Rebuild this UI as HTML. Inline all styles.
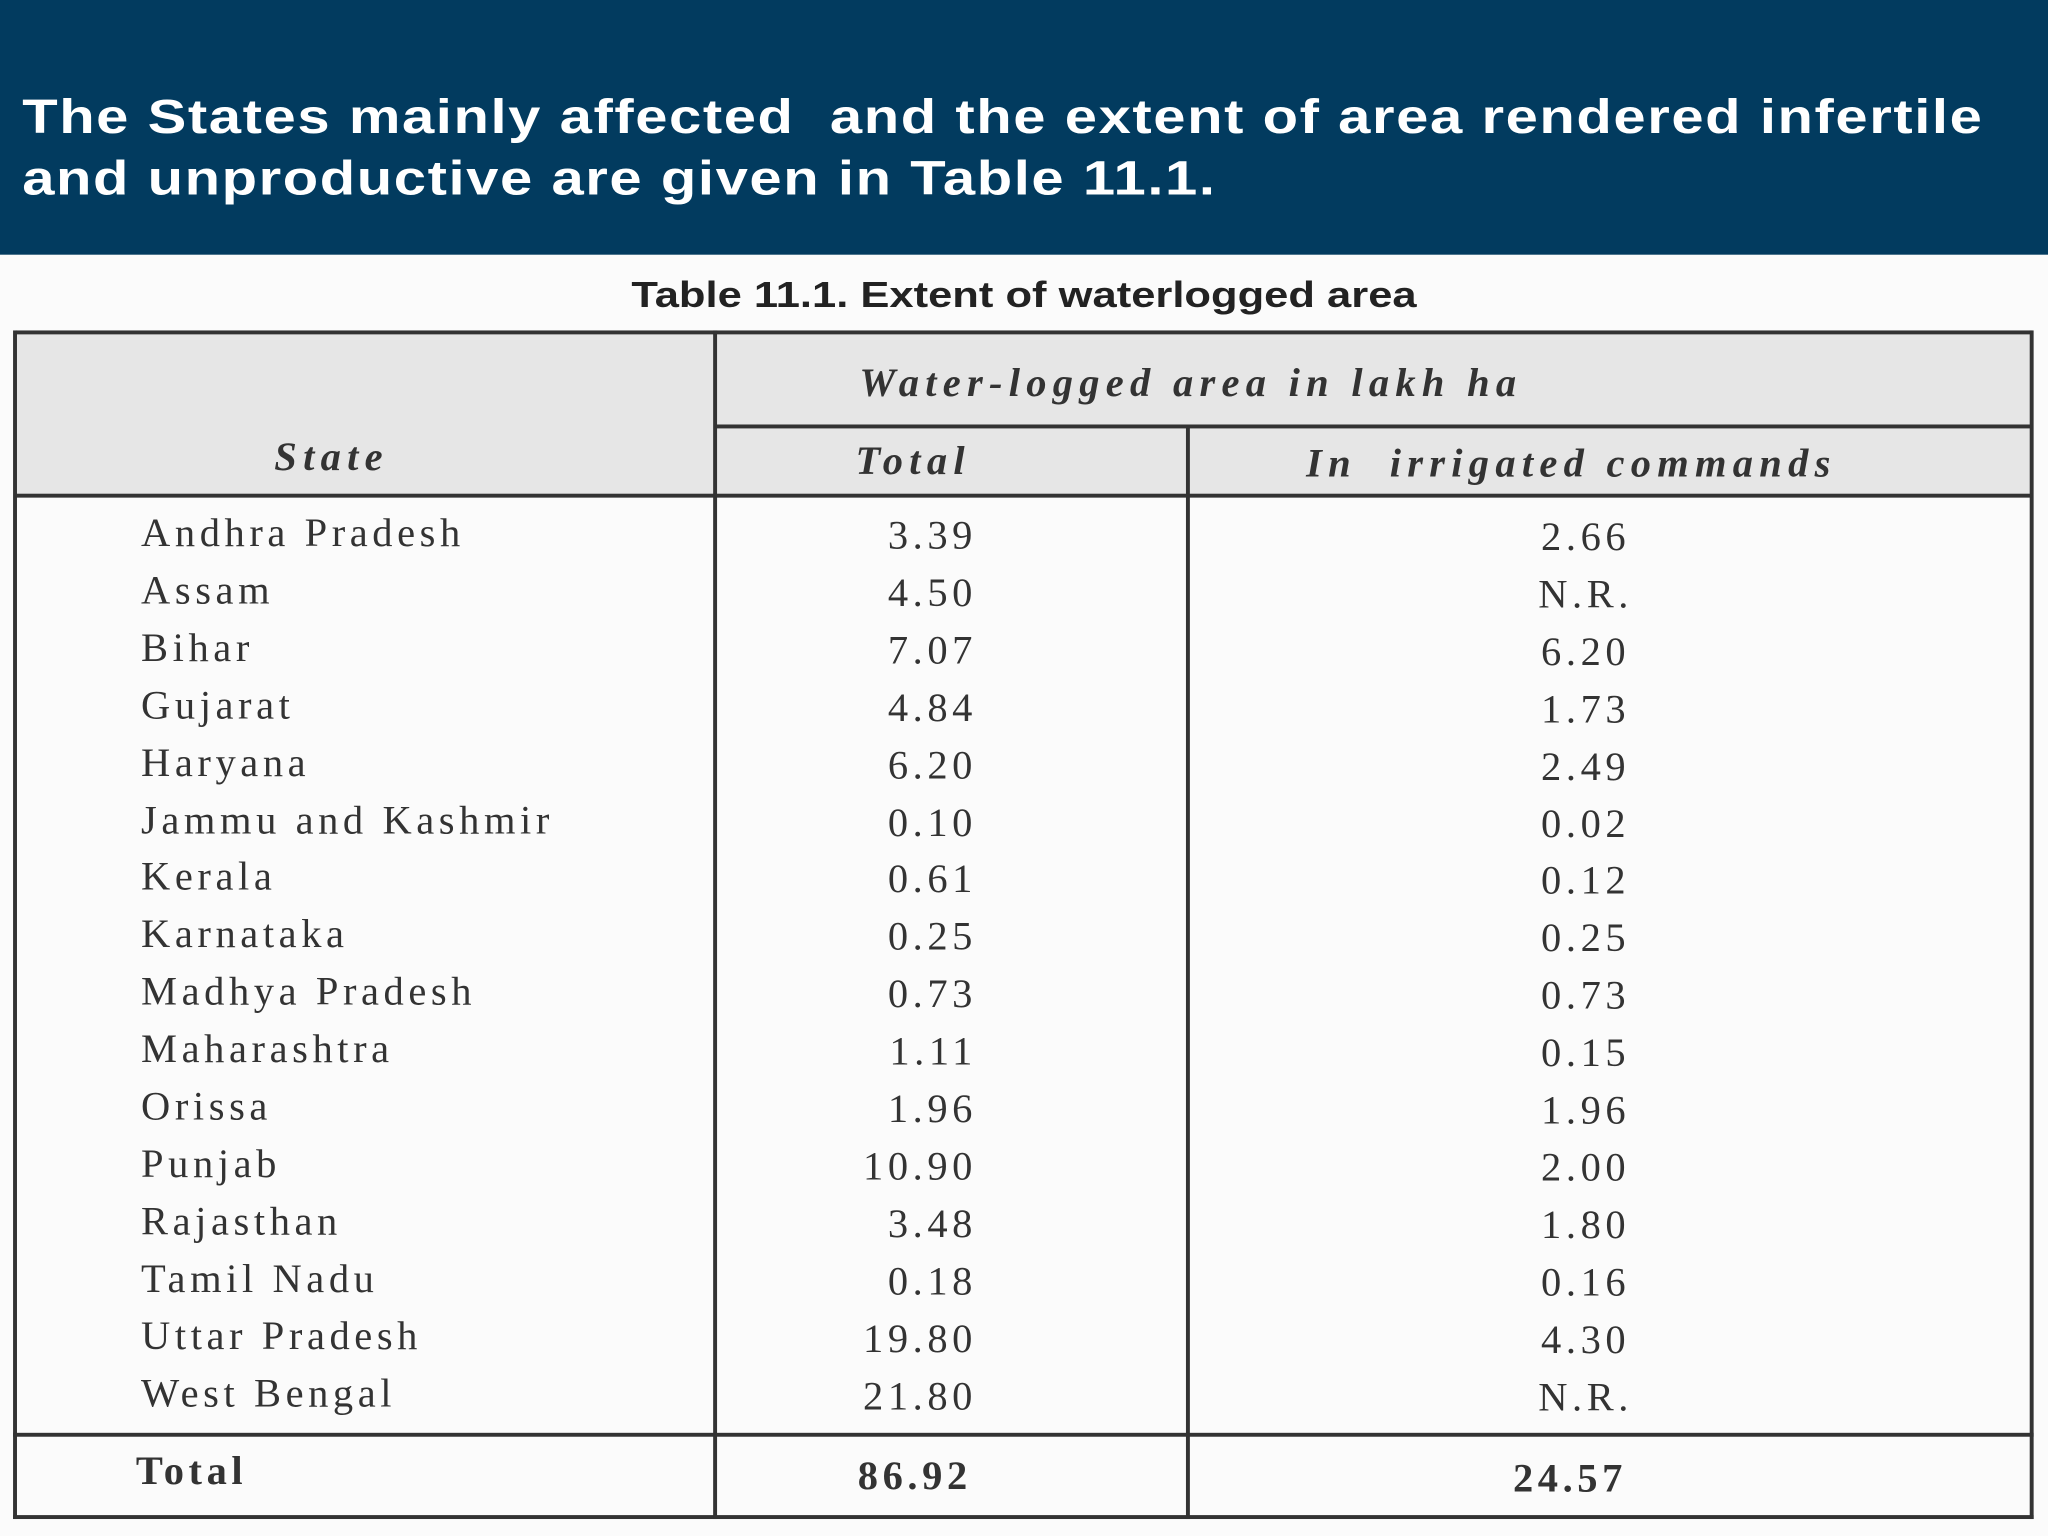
<!DOCTYPE html>
<html><head><meta charset="utf-8"><style>
html,body{margin:0;padding:0;background:#fff;}
#wrap{width:1568px;height:1176px;position:relative;transform:scale(1.306122);transform-origin:0 0;overflow:hidden;background:#fbfbfb;}
#band{position:absolute;left:0;top:0;width:1568px;height:195px;background:#023b5f;}
#title{position:absolute;left:17px;top:66px;color:#fff;font:bold 37px/47px "Liberation Sans",sans-serif;letter-spacing:1px;margin:0;transform:scaleX(1.2);transform-origin:0 0;white-space:nowrap;}
#caption{position:absolute;left:0;width:1568px;top:210px;text-align:center;font:bold 28px "Liberation Sans",sans-serif;color:#222;transform:scaleX(1.19);transform-origin:784px 0;}
.ln{position:absolute;background:#333;}
.hd{position:absolute;font:italic bold 31px "Liberation Serif",serif;color:#333;letter-spacing:4.8px;white-space:nowrap;}
.c{position:absolute;font:31px "Liberation Serif",serif;color:#333;letter-spacing:3.5px;white-space:nowrap;}
</style></head><body>
<div id="wrap">
<div id="band"></div>
<p id="title">The States mainly affected&nbsp; and the extent of area rendered infertile<br>and unproductive are given in Table 11.1.</p>
<div id="caption">Table 11.1. Extent of waterlogged area</div>
<div style="position:absolute;left:12px;top:253px;width:1544px;height:127px;background:#e6e6e6;"></div>
<div class="ln" style="left:12px;top:253px;width:1544px;height:3px;"></div>
<div class="ln" style="left:10px;top:253px;width:3px;height:910px;"></div>
<div class="ln" style="left:1554px;top:253px;width:3px;height:910px;"></div>
<div class="ln" style="left:10px;top:1160px;width:1547px;height:3px;"></div>
<div class="ln" style="left:546px;top:253px;width:3px;height:910px;"></div>
<div class="ln" style="left:908px;top:327px;width:3px;height:836px;"></div>
<div class="ln" style="left:548px;top:325px;width:1008px;height:3px;"></div>
<div class="ln" style="left:12px;top:378px;width:1544px;height:3px;"></div>
<div class="ln" style="left:10px;top:1097px;width:1547px;height:3px;"></div>
<div class="hd" style="left:210px;top:332px;">State</div>
<div class="hd" style="left:658px;top:275px;">Water-logged area in lakh ha</div>
<div class="hd" style="left:655px;top:335px;">Total</div>
<div class="hd" style="left:1000px;top:337px;">In&nbsp; irrigated commands</div>
</div>
<script>
const states=["Andhra Pradesh","Assam","Bihar","Gujarat","Haryana","Jammu and Kashmir","Kerala","Karnataka","Madhya Pradesh","Maharashtra","Orissa","Punjab","Rajasthan","Tamil Nadu","Uttar Pradesh","West Bengal"];
const totals=["3.39","4.50","7.07","4.84","6.20","0.10","0.61","0.25","0.73","1.11","1.96","10.90","3.48","0.18","19.80","21.80"];
const irrigated=["2.66","N.R.","6.20","1.73","2.49","0.02","0.12","0.25","0.73","0.15","1.96","2.00","1.80","0.16","4.30","N.R."];
const sumRow=["Total","86.92","24.57"];
const wrap=document.getElementById('wrap');
function cell(txt,x,y,align,bold){
  const d=document.createElement('div');
  d.className='c';
  d.textContent=txt;
  d.style.top=y+'px';
  if(align==='right'){d.style.right=(1568-x)+'px';}
  else if(align==='center'){d.style.left=(x-100)+'px';d.style.width='200px';d.style.textAlign='center';}
  else d.style.left=x+'px';
  if(bold)d.style.fontWeight='bold';
  wrap.appendChild(d);
  return d;
}
const y0=390,dy=43.9;
states.forEach((s,i)=>{
  const y=y0+i*dy;
  const a=cell(s,108,y,'left');
  
  
  const b=cell(totals[i],748,y+2,'right');
  
  
  const c=cell(irrigated[i],1214,y+3,'center');
  
  
});
const t1=cell(sumRow[0],104,1108,'left',true);


const t2=cell(sumRow[1],744,1112,'right',true);


const t3=cell(sumRow[2],1202,1114,'center',true);


</script>
</body></html>
